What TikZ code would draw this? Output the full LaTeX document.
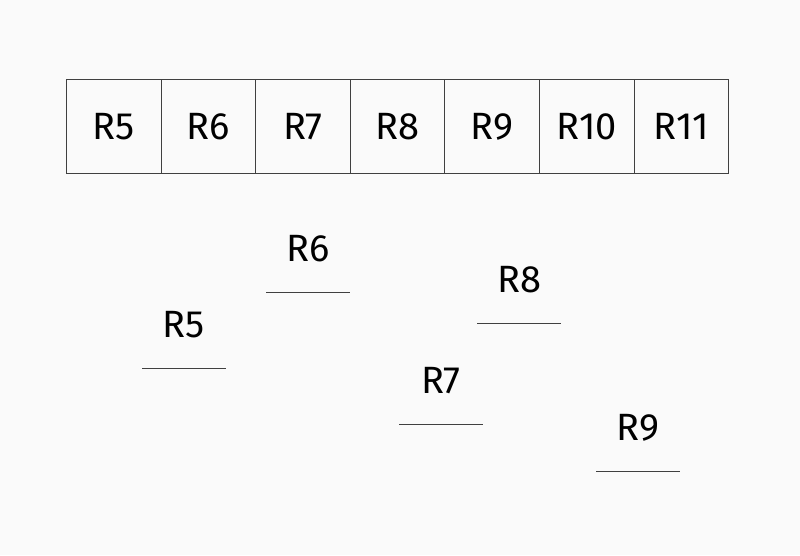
\documentclass[tikz,border=0pt]{standalone}
\usepackage{fontspec}
\setmainfont{Fira Sans}
\begin{document}
\begin{tikzpicture}[x=1pt,y=-1pt,
  cell/.style={draw=black!75,line width=0.8pt,minimum width=94.6pt,minimum height=94pt,inner sep=0pt,anchor=north west,font=\fontsize{38}{40}\selectfont},
  lab/.style={font=\fontsize{38}{40}\selectfont,inner sep=0pt},
  bar/.style={draw=black!75,line width=0.8pt}]
\fill[fill=black!2] (0,0) rectangle (800,555);
\useasboundingbox (0,0) rectangle (800,555);
\foreach \t [count=\i from 0] in {R5,R6,R7,R8,R9,R10,R11}
  \node[cell] (c\i) at ({66+\i*94.6},79) {\t};
\foreach \n/\t/\x/\y in {a/R5/184/325, b/R6/308/249, c/R8/519/280, d/R7/441/381, e/R9/638/428}{
  \node[lab] (\n) at (\x,\y) {\t};
  \coordinate (\n l) at (\x-42,\y+43);
  \coordinate (\n r) at (\x+42,\y+43);
  \draw[bar] (\n l) -- (\n r);
}
\end{tikzpicture}
\end{document}
